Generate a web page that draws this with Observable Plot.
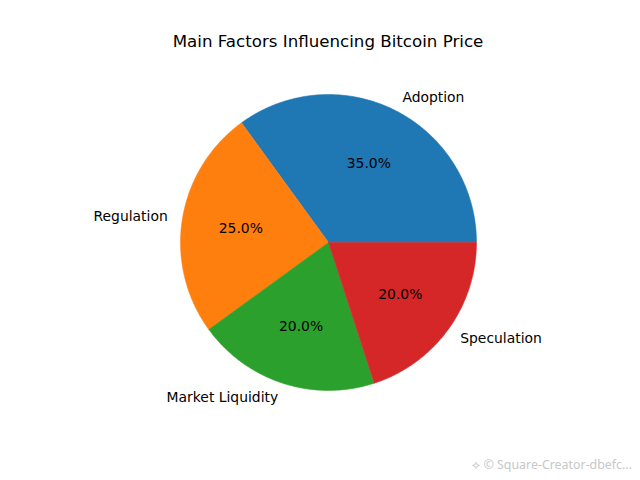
<!DOCTYPE html>
<html>
<head>
<meta charset="utf-8">
<script src="https://cdn.jsdelivr.net/npm/d3@7"></script>
<script src="https://cdn.jsdelivr.net/npm/@observablehq/plot@0.6"></script>
<style>
  html, body { margin: 0; padding: 0; background: #fff; }
  #wrap { position: relative; width: 640px; height: 480px; overflow: hidden; font-family: "DejaVu Sans", sans-serif; }
  #title { position: absolute; left: 8px; width: 640px; top: 32px; text-align: center; font-size: 16.67px; color: #000; }
  #chart { position: absolute; left: 0; top: 0; }
  #wm { position: absolute; right: 8px; top: 456px; font-family: "Noto Sans", "Open Sans", sans-serif; font-size: 12.4px; color: #c8c8c8; }
</style>
</head>
<body>
<div id="wrap">
  <div id="chart"></div>
  <div id="title">Main Factors Influencing Bitcoin Price</div>
  <div id="wm">⟡ © Square-Creator-dbefc...</div>
</div>
<script>
const categories = ["Adoption", "Regulation", "Market Liquidity", "Speculation"];
const values = [35, 25, 20, 20];
const colors = ["#1f77b4", "#ff7f0e", "#2ca02c", "#d62728"];

const total = d3.sum(values);
const wedges = [];
const polys = [];
let start = 0;
values.forEach((v, i) => {
  const span = v / total * 360;
  const end = start + span;
  const mid = (start + end) / 2 * Math.PI / 180;
  wedges.push({
    name: categories[i],
    pct: (v / total * 100).toFixed(1) + "%",
    lx: 1.1 * Math.cos(mid), ly: 1.1 * Math.sin(mid),
    px: 0.6 * Math.cos(mid), py: 0.6 * Math.sin(mid),
    right: Math.cos(mid) >= 0,
    color: colors[i]
  });
  polys.push({ name: categories[i], x: 0, y: 0, color: colors[i] });
  const n = Math.max(2, Math.ceil(span * 2));
  for (let k = 0; k <= n; k++) {
    const a = (start + span * k / n) * Math.PI / 180;
    polys.push({ name: categories[i], x: Math.cos(a), y: Math.sin(a), color: colors[i] });
  }
  polys.push({ name: categories[i], x: 0, y: 0, color: colors[i] });
  start = end;
});

const R = 148, cx = 328, cy = 242;
const chart = Plot.plot({
  width: 640, height: 480,
  margin: 0,
  x: { domain: [-cx / R, (640 - cx) / R], range: [0, 640], axis: null },
  y: { domain: [-(480 - cy) / R, cy / R], range: [480, 0], axis: null },
  style: { fontFamily: "DejaVu Sans, sans-serif", fontSize: "13.9px", background: "#fff" },
  marks: [
    Plot.line(polys, { x: "x", y: "y", z: "name", fill: "color", stroke: "color", strokeWidth: 0.5, curve: "linear" }),
    Plot.text(wedges.filter(d => d.right), { x: "lx", y: "ly", text: "name", textAnchor: "start", fill: "#000", fontSize: 13.9 }),
    Plot.text(wedges.filter(d => !d.right), { x: "lx", y: "ly", text: "name", textAnchor: "end", fill: "#000", fontSize: 13.9 }),
    Plot.text(wedges, { x: "px", y: "py", text: "pct", fill: "#000", fontSize: 13.9 })
  ]
});
document.getElementById("chart").appendChild(chart);
</script>
</body>
</html>
